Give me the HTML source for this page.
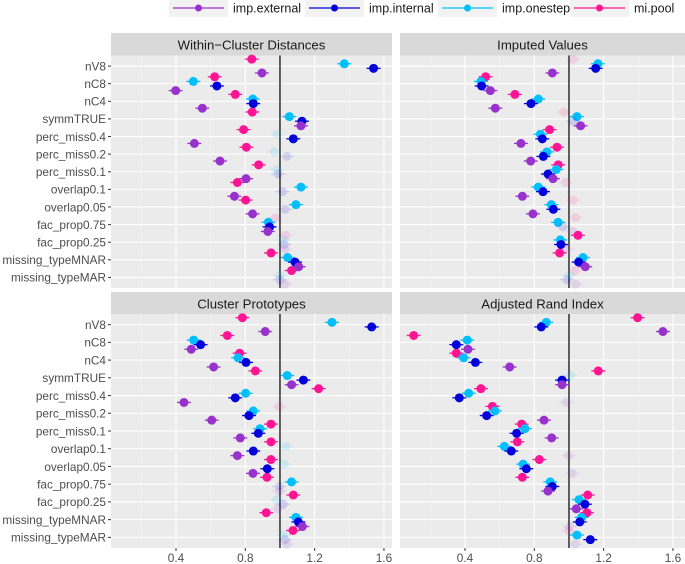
<!DOCTYPE html>
<html><head><meta charset="utf-8"><style>
body{margin:0;background:#fff;}
svg{display:block;font-family:"Liberation Sans",sans-serif;}
</style></head><body>
<svg id="chart" width="685" height="564" viewBox="0 0 685 564" xmlns="http://www.w3.org/2000/svg"></svg>
<script>
const rows = ["nV8","nC8","nC4","symmTRUE","perc_miss0.4","perc_miss0.2","perc_miss0.1","overlap0.1","overlap0.05","fac_prop0.75","fac_prop0.25","missing_typeMNAR","missing_typeMAR"];
const seriesNames = ["mi.pool","imp.onestep","imp.internal","imp.external"];
const legendNames = ["imp.external","imp.internal","imp.onestep","mi.pool"];
const xTicks = [0.4,0.8,1.2,1.6];
const panelTitles = ["Within\u2212Cluster Distances","Imputed Values","Cluster Prototypes","Adjusted Rand Index"];
// values per panel, per series (mi.pool, onestep, internal, external), per row
const wcdPool =     [0.837,0.623,0.742,0.840,0.790,0.806,0.877,0.754,0.802,0.975,1.033,0.948,1.067];
const wcdOnestep =  [1.371,0.500,0.843,1.054,0.983,0.967,0.983,1.121,1.092,0.933,1.020,1.044,1.000];
const wcdInternal = [1.540,0.636,0.846,1.127,1.077,1.040,0.990,1.015,1.030,0.940,1.025,1.087,1.000];
const wcdExternal = [0.896,0.398,0.552,1.121,0.506,0.654,0.804,0.737,0.842,0.930,1.030,1.108,1.030];
const ivPool =      [1.023,0.519,0.688,0.969,0.888,0.931,0.938,0.981,1.023,1.038,1.052,0.946,1.035];
const ivOnestep =   [1.167,0.492,0.823,1.046,0.835,0.873,0.927,0.823,0.898,0.937,0.950,1.081,1.000];
const ivInternal =  [1.154,0.496,0.781,1.023,0.846,0.852,0.879,0.850,0.910,0.965,0.954,1.056,0.988];
const ivExternal =  [0.904,0.546,0.575,1.067,0.723,0.779,0.908,0.731,0.792,1.023,0.985,1.094,1.038];
const cpPool =      [0.783,0.696,0.767,0.858,1.223,0.996,0.948,0.948,0.948,0.925,1.077,0.921,1.075];
const cpOnestep =   [1.300,0.502,0.758,1.042,0.802,0.846,0.885,1.035,1.025,1.067,0.981,1.092,1.021];
const cpInternal =  [1.529,0.542,0.804,1.135,0.742,0.821,0.875,0.846,0.927,0.996,1.019,1.106,1.029];
const cpExternal =  [0.915,0.488,0.617,1.067,0.446,0.606,0.771,0.754,0.844,0.996,0.987,1.129,1.040];
const ariPool =     [1.396,0.104,0.350,1.169,0.492,0.558,0.727,0.702,0.829,0.731,1.108,1.104,0.998];
const ariOnestep =  [0.869,0.413,0.392,1.008,0.421,0.573,0.746,0.627,0.735,0.892,1.058,1.073,1.046];
const ariInternal = [0.840,0.350,0.460,0.960,0.367,0.525,0.698,0.667,0.754,0.904,1.092,1.062,1.123];
const ariExternal = [1.542,0.417,0.658,0.960,0.985,0.856,0.900,0.998,1.019,0.879,1.042,1.004,1.035];
// 1 = significant (opaque), 0 = faded
const wcdSig = [[1,1,1,1,1,1,1,1,1,0,0,1,1],[1,1,1,1,0,0,0,1,1,1,0,1,0],[1,1,1,1,1,0,0,0,0,1,0,1,0],[1,1,1,1,1,1,1,1,1,1,0,1,0]];
const ivSig  = [[0,1,1,0,1,1,1,0,0,0,1,1,0],[1,1,1,1,1,1,1,1,1,1,1,1,0],[1,1,1,0,1,1,1,1,1,0,1,1,0],[1,1,1,1,1,1,1,1,1,0,0,1,0]];
const cpSig  = [[1,1,1,1,1,0,1,1,1,1,1,1,1],[1,1,1,1,1,1,1,0,0,1,0,1,0],[1,1,1,1,1,1,1,1,1,0,0,1,0],[1,1,1,1,1,1,1,1,1,0,0,1,0]];
const ariSig = [[1,1,1,1,1,1,1,1,1,1,1,1,0],[1,1,1,0,1,1,1,1,1,1,1,1,1],[1,1,1,1,1,1,1,1,1,1,1,1,1],[1,1,1,1,0,1,1,0,0,1,1,0,0]];

const panelData = [[wcdPool,wcdOnestep,wcdInternal,wcdExternal],[ivPool,ivOnestep,ivInternal,ivExternal],[cpPool,cpOnestep,cpInternal,cpExternal],[ariPool,ariOnestep,ariInternal,ariExternal]];
const panelSig = [wcdSig,ivSig,cpSig,ariSig];
const colors = {"mi.pool":"#FF1493","imp.onestep":"#00BFFF","imp.internal":"#0000DD","imp.external":"#9932CC"};
const NS="http://www.w3.org/2000/svg";
const svg=document.getElementById('chart');
function mk(tag,attrs,parent){const e=document.createElementNS(NS,tag);for(const k in attrs)e.setAttribute(k,attrs[k]);(parent||svg).appendChild(e);return e;}

// layout
const panels=[{x0:111,x1:392,sy:33,py0:55.5,py1:288},{x0:400,x1:685,sy:33,py0:55.5,py1:288},{x0:111,x1:392,sy:292,py0:314,py1:548},{x0:400,x1:685,sy:292,py0:314,py1:548}];
const PX=173.3;
panels.forEach((p,pi)=>{
  const g=mk('g',{});
  
  
  const xScale=v=>p.x0+65+(v-0.4)*PX;
  const step=(p.py1-p.py0)/(rows.length+0.2);
  const yScale=i=>p.py0+step*(0.6+i);
  const strip=mk('rect',{x:p.x0,y:p.sy,width:p.x1-p.x0,height:p.py0-p.sy,fill:'#D9D9D9'},g);
  
  
  const st=mk('text',{x:(p.x0+p.x1)/2,y:p.sy+16.5,'text-anchor':'middle','font-size':'13.2',fill:'#1A1A1A'},g);
  st.textContent=panelTitles[pi];
  
  
  const bg=mk('rect',{x:p.x0,y:p.py0,width:p.x1-p.x0,height:p.py1-p.py0,fill:'#EBEBEB'},g);
  
  
  // minor grid
  for(let v=0.2;v<=1.8;v+=0.4){const x=xScale(v);if(x>p.x0&&x<p.x1)mk('line',{x1:x,x2:x,y1:p.py0,y2:p.py1,stroke:'#F5F5F5','stroke-width':0.6},g);}
  xTicks.forEach(v=>{const x=xScale(v);if(x<p.x1)mk('line',{x1:x,x2:x,y1:p.py0,y2:p.py1,stroke:'#fff','stroke-width':1.1},g);});
  rows.forEach((r,i)=>{mk('line',{x1:p.x0,x2:p.x1,y1:yScale(i),y2:yScale(i),stroke:'#fff','stroke-width':1.1},g);});
  // ref line
  const rl=mk('line',{x1:xScale(1),x2:xScale(1),y1:p.py0,y2:p.py1,stroke:'#000','stroke-width':1.2},g);
  
  
  // y labels
  if(pi%2===0){rows.forEach((r,i)=>{
    mk('line',{x1:p.x0-3,x2:p.x0,y1:yScale(i),y2:yScale(i),stroke:'#333','stroke-width':1},g);
    const t=mk('text',{x:p.x0-5,y:yScale(i)+4.3,'text-anchor':'end','font-size':'11.8',fill:'#4D4D4D'},g);
    t.textContent=r;
    
    
  });}
  if(pi>=2){xTicks.forEach(v=>{const x=xScale(v);
    mk('line',{x1:x,x2:x,y1:p.py1,y2:p.py1+3,stroke:'#333','stroke-width':1},g);
    const t=mk('text',{x:x,y:p.py1+14,'text-anchor':'middle','font-size':'11.8',fill:'#4D4D4D'},g);
    t.textContent=String(v);
    
    
  });}
  // points
  const offs=[-6.9,-2.3,2.3,6.9];
  panelData[pi].forEach((vals,si)=>{
    const col=colors[seriesNames[si]];
    vals.forEach((v,ri)=>{
      const op=panelSig[pi][si][ri]?1:0.13;
      const y=yScale(ri)+offs[si];
      const pg=mk('g',{opacity:op},g);
      
      
      mk('line',{x1:xScale(v-0.04),x2:xScale(v+0.04),y1:y,y2:y,stroke:col,'stroke-width':1.3},pg);
      mk('circle',{cx:xScale(v),cy:y,r:4.5,fill:col},pg);
    });
  });
});
// legend
const legX=[169,305,438,570];
legendNames.forEach((n,i)=>{
  const g=mk('g',{});
  
  
  mk('rect',{x:legX[i],y:0,width:59,height:17,fill:'#F2F2F2'},g);
  mk('line',{x1:legX[i]+4,x2:legX[i]+55,y1:8,y2:8,stroke:colors[n],'stroke-width':1.2},g);
  mk('circle',{cx:legX[i]+29.5,cy:8,r:3.5,fill:colors[n]},g);
  const t=mk('text',{x:legX[i]+64,y:12.5,'font-size':'12.5',fill:'#1A1A1A'},g);
  t.textContent=n;
});
</script>
</body></html>
